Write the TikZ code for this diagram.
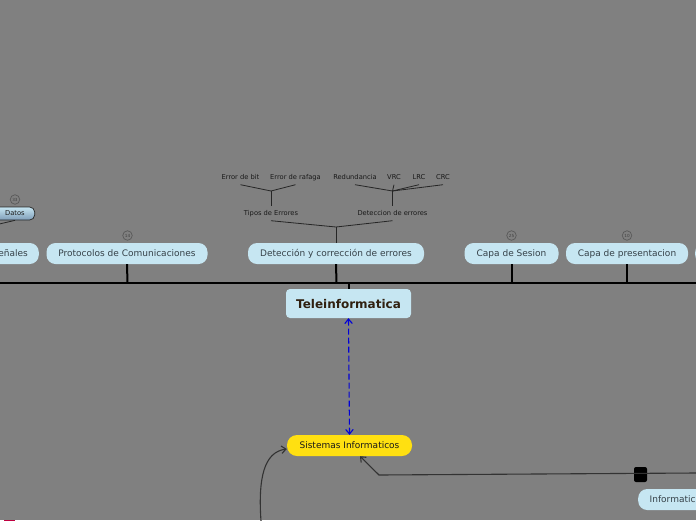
\documentclass[tikz,border=0pt]{standalone}
\usepackage{fontspec}
\usetikzlibrary{arrows.meta}
\setmainfont{DejaVu Sans}
\definecolor{fondo}{HTML}{808080}
\definecolor{celeste}{HTML}{C6E6F2}
\definecolor{tinta}{HTML}{364148}
\definecolor{amarillo}{HTML}{FFE011}
\definecolor{azulado}{HTML}{7F9DB8}
\begin{document}
\begin{tikzpicture}[>={Straight Barb[length=4.5pt,width=7.5pt]},x=1pt,y=-1pt,
    tema/.style={fill=celeste,text=tinta,rounded corners=9pt,minimum height=21pt,inner xsep=0pt,inner ysep=0pt,text height=6.5pt,text depth=0pt,font=\fontsize{9}{11}\selectfont},
    hoja/.style={text=black!90,inner sep=0pt,minimum height=14pt,text height=4.9pt,text depth=0pt,font=\fontsize{6.7}{8}\selectfont},
    marca/.style={circle,draw=black!65,line width=0.7pt,text=black!75,inner sep=0pt,minimum size=9.5pt,font=\fontsize{4.2}{5}\selectfont},
    rama/.style={line width=0.8pt,draw=black!85},
    tallo/.style={line width=2pt,draw=black},
    eje/.style={line width=2.5pt,draw=black},
    flecha/.style={->,line width=1.1pt,draw=black!80}]
    \useasboundingbox (0,0) rectangle (696,520);
    \clip (0,0) rectangle (696,520);
    \fill[fondo] (0,0) rectangle (696,520);
    % nodos principales
    \node[fill=celeste,text=black!75!brown,rounded corners=4pt,minimum width=125pt,minimum height=29pt,inner sep=0pt,text height=10pt,text depth=0pt,font=\bfseries\fontsize{12}{14}\selectfont] (tele) at (348.5,303.5) {Teleinformatica};
    \node[tema,fill=amarillo,text=black!90,minimum width=125pt,rounded corners=10pt] (sistemas) at (349.5,445.5) {Sistemas Informaticos};
    \node[tema,inner xsep=11pt,anchor=east] (senales) at (39,253.5) {Señales};
    \node[tema,minimum width=161pt] (protocolos) at (127,253.5) {Protocolos de Comunicaciones};
    \node[tema,minimum width=176pt] (deteccion) at (336,253.5) {Detección y corrección de errores};
    \node[tema,minimum width=94pt] (sesion) at (511.5,253.5) {Capa de Sesion};
    \node[tema,minimum width=122pt] (presentacion) at (627,253.5) {Capa de presentacion};
    \node[tema,minimum width=40pt,anchor=west] (siguiente) at (695,253.5) {};
    \node[tema,inner xsep=11.5pt,anchor=west] (informatica) at (638,499.5) {Informatica};
    \node[fill=black,rounded corners=2pt,minimum width=13pt,minimum height=15pt,inner sep=0pt] (cuadro) at (640.5,474.5) {};
    \node[fill=purple,minimum width=11pt,minimum height=6pt,inner sep=0pt,anchor=north] (rojo) at (9.5,519.3) {};
    % hojas
    \node[hoja] (errbit) at (240.5,177.5) {Error de bit};
    \node[hoja] (rafaga) at (295.5,177.5) {Error de rafaga};
    \node[hoja] (redun) at (355,177.5) {Redundancia};
    \node[hoja] (vrc) at (394,177.5) {VRC};
    \node[hoja] (lrc) at (419,177.5) {LRC};
    \node[hoja] (crc) at (443,177.5) {CRC};
    \node[hoja] (tipos) at (271,213.5) {Tipos de Errores};
    \node[hoja] (detec) at (392.5,213.5) {Deteccion de errores};
    \node[draw=black!85,line width=0.7pt,top color=celeste,bottom color=azulado,text=black!90,rounded corners=5pt,minimum height=13pt,inner ysep=0pt,inner xsep=10pt,text height=4.9pt,text depth=0pt,anchor=east,font=\fontsize{6.7}{8}\selectfont] (datos) at (35,213.5) {\hspace*{20pt}Datos};
    % marcas
    \node[marca] (m33) at (15,199.5) {33};
    \node[marca] (m14) at (127.5,235.5) {14};
    \node[marca] (m25) at (511.5,235.5) {25};
    \node[marca] (m10) at (627,235.5) {10};
    % puntos de union
    \coordinate (izq) at (0,283);
    \coordinate (der) at (696,283);
    \coordinate (jtipos) at (271,191);
    \coordinate (jdetec) at (392.5,191);
    \coordinate (jerr) at (336,227);
    \coordinate (jp) at (127.5,283);
    \coordinate (jd) at (336.5,283);
    \coordinate (js) at (511.5,283);
    \coordinate (jc) at (627,283);
    \coordinate (jt) at (348.5,283);
    \coordinate (codo) at (379,475);
    \coordinate (salida) at (696,473);
    \coordinate (abajo) at (261,521);
    \coordinate (jdatos) at (-5,225);
    % eje y ramas
    \draw[eje] (izq) -- (der);
    \draw[tallo] (protocolos.south) -- (jp);
    \draw[tallo] (deteccion.south) -- (jd);
    \draw[tallo] (sesion.south) -- (js);
    \draw[tallo] (presentacion.south) -- (jc);
    \draw[tallo] (tele.north) -- (jt);
    \draw[rama] (errbit.south) -- (jtipos);
    \draw[rama] (rafaga.south) -- (jtipos);
    \draw[rama] (jtipos) -- (tipos.north);
    \draw[rama] (redun.south) -- (jdetec);
    \draw[rama] (vrc.south) -- (jdetec);
    \draw[rama] (lrc.south) -- (jdetec);
    \draw[rama] (crc.south) -- (jdetec);
    \draw[rama] (jdetec) -- (detec.north);
    \draw[rama] (tipos.south) -- (jerr);
    \draw[rama] (detec.south) -- (jerr);
    \draw[rama] (jerr) -- (deteccion.north);
    \draw[rama] (datos.south -| m33) -- (jdatos);
    % relaciones
    \draw[<->,draw=blue!85!black,dash pattern=on 6pt off 3pt,line width=1.1pt] (tele.south) -- (sistemas.north);
    \draw[flecha] (salida) -- (codo) -- ([xshift=10.5pt]sistemas.south);
    \draw[flecha] (abajo) .. controls (258,478) and (264,452) .. ([yshift=-3.5pt]sistemas.west);
\end{tikzpicture}
\end{document}
